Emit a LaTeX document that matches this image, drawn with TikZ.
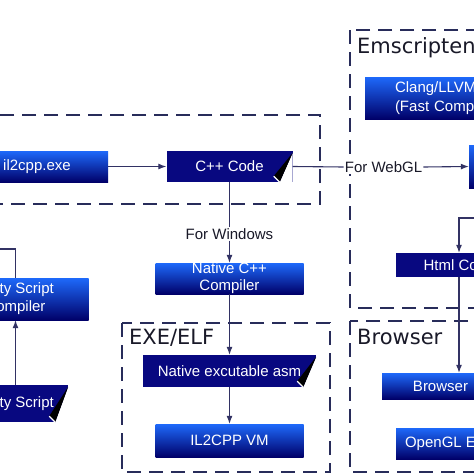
\documentclass[tikz,border=0pt]{standalone}
\usepackage{fontspec}
\setmainfont{Liberation Sans}
\newfontfamily\grpfont{DejaVu Sans}
\usetikzlibrary{arrows.meta}
\definecolor{navy}{RGB}{8,8,128}
\definecolor{gtop}{RGB}{30,105,250}
\definecolor{gbot}{RGB}{0,0,105}
\definecolor{dashc}{RGB}{40,44,90}
\definecolor{linec}{RGB}{50,50,100}
\definecolor{labc}{RGB}{25,25,40}
\newcommand\boxfont{\fontsize{15}{18}\selectfont}
\newcommand\pagecurl[1]{%
  \fill[white] ([yshift=-2pt]#1.north east) -- (#1.south east) -- ([xshift=-13pt]#1.south east) -- cycle;
  \fill[black] ([yshift=-2pt]#1.north east) -- ([xshift=-13pt]#1.south east) -- ([xshift=-19pt,yshift=6pt]#1.south east) -- cycle;
  \draw[white,line width=1.2pt] ([xshift=-19pt,yshift=6pt]#1.south east) -- ([xshift=-13pt]#1.south east);
}
\tikzset{
  gradbox/.style={rectangle, top color=gtop, bottom color=gbot, draw=none, text=white, inner sep=0pt, font=\boxfont, align=center},
  navybox/.style={rectangle, fill=navy, draw=none, text=white, inner sep=0pt, font=\boxfont, align=center},
  lab/.style={text=labc, font=\boxfont, inner sep=1pt, fill=white},
  grplab/.style={text=labc, font=\grpfont\fontsize{21}{24}\selectfont, inner sep=0pt, anchor=base west},
  dashbox/.style={draw=dashc, line width=2.2pt, dash pattern=on 14pt off 8pt},
  conn/.style={draw=linec, line width=1.1pt},
  arr/.style={conn, -{Latex[length=8pt,width=6pt]}}
}
\begin{document}
\begin{tikzpicture}[x=1pt,y=-1pt]
\useasboundingbox (0,0) rectangle (474,474);
\clip (0,0) rectangle (474,474);
\fill[white] (0,0) rectangle (474,474);
% dashed groups
\draw[dashbox] (-10,115) rectangle (320,204);
\draw[dashbox] (350,30) rectangle (500,308);
\draw[dashbox] (350,321) rectangle (500,472);
\draw[dashbox] (122,323) rectangle (330,472);
% group labels
\node[grplab] (gem) at (357,53) {Emscripten};
\node[grplab] (gbr) at (357,344) {Browser};
\node[grplab] (gexe) at (129,344) {EXE/ELF};
% boxes
\node[gradbox, minimum width=142pt, minimum height=31pt] (il2cpp) at (37,166.5) {il2cpp.exe};
\node[navybox, minimum width=126pt, minimum height=31pt] (cpp) at (229.5,166.5) {C++ Code};
\node[gradbox, minimum width=110pt, minimum height=43pt] (webglbox) at (524,166.5) {};
\node[gradbox, text width=120pt, inner xsep=30pt, minimum height=42pt, align=left, font=\fontsize{15}{19}\selectfont] (clang) at (455,98) {Clang/LLVM\\(Fast Compiler)};
\node[navybox, minimum width=126pt, minimum height=24pt] (html) at (459,265) {Html Code};
\node[gradbox, minimum width=117pt, minimum height=26pt] (bro) at (440.5,386) {Browser};
\node[gradbox, minimum width=99pt, minimum height=31pt] (ogl) at (445.5,443.5) {OpenGL ES};
\node[gradbox, minimum width=146pt, minimum height=42pt] (ucomp) at (15.5,299) {Unity Script\\Compiler};
\node[navybox, minimum width=105pt, minimum height=37pt] (uscript) at (15.5,403.5) {Unity Script};
\node[gradbox, minimum width=148pt, minimum height=31pt, font=\fontsize{15}{17}\selectfont] (ncc) at (229.5,278.5) {Native C++\\Compiler};
\node[navybox, minimum width=173pt, minimum height=32pt] (asm) at (229.5,371) {Native excutable asm};
\node[gradbox, minimum width=148pt, minimum height=33pt] (vm) at (229.5,440.5) {IL2CPP VM};
\pagecurl{cpp}
\pagecurl{uscript}
\pagecurl{asm}
% labels
\node[lab] (fwebgl) at (383.5,167) {For WebGL};
\node[lab] (fwin) at (229.5,234) {For Windows};
% connectors
\coordinate (hin) at (490,218);
\coordinate (uout) at (-10,249);
\draw[arr] (il2cpp.east) -- (cpp.west);
\draw[conn] (cpp.east) -- (fwebgl.west);
\draw[arr] (fwebgl.east) -- (webglbox.west);
\draw[conn] (cpp.south) -- (fwin.north);
\draw[arr] (fwin.south) -- (ncc.north);
\draw[arr] (ncc.south) -- (asm.north);
\draw[arr] (asm.south) -- (vm.north);
\draw[arr] (hin) -| (html.north);
\draw[arr] (html.south) -- (html.south |- bro.north);
\draw[arr] (uscript.north) -- (ucomp.south);
\draw[conn] (ucomp.north) |- (uout);
\end{tikzpicture}
\end{document}
